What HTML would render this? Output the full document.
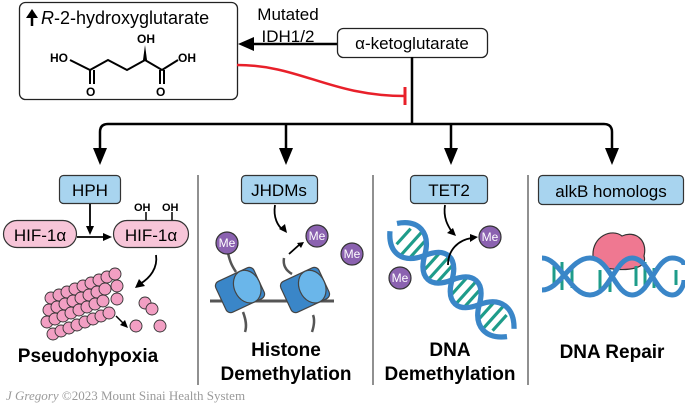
<!DOCTYPE html>
<html><head><meta charset="utf-8"><style>
html,body{margin:0;padding:0;background:#fff;}
svg{display:block;}
text{font-family:"Liberation Sans",sans-serif;}
</style></head><body>
<svg width="685" height="406" viewBox="0 0 685 406" xmlns="http://www.w3.org/2000/svg">
<!-- top box -->
<rect x="19.5" y="2.5" width="218" height="97" rx="6" fill="#fff" stroke="#222" stroke-width="1.3"/>
<path d="M32,26 V14" stroke="#000" stroke-width="2.5"/>
<path d="M26,18 L32,9 L38,18 z" fill="#000"/>
<text x="41" y="24" font-size="18"><tspan font-style="italic">R</tspan>-2-hydroxyglutarate</text>
<!-- molecule -->
<g stroke="#000" stroke-width="2" fill="none">
<path d="M70,60 L90,70 L108,60 L127,70 L145,60 L162,70 L178,60"/>
<path d="M90,70 V84 M94,70 V84"/>
<path d="M160,70 V84 M164,70 V84"/>
</g>
<path d="M143,60 L147,60 L145,45 z" fill="#000"/>
<g font-size="12" font-weight="bold">
<text x="50" y="62">HO</text><text x="178" y="62">OH</text><text x="137" y="43">OH</text>
<text x="86" y="96">O</text><text x="156" y="96">O</text>
</g>
<!-- mutated -->
<text x="288" y="20" font-size="17" text-anchor="middle">Mutated</text>
<text x="288" y="42" font-size="17" text-anchor="middle">IDH1/2</text>
<line x1="337" y1="44" x2="252" y2="44" stroke="#000" stroke-width="2.5"/>
<path d="M238,44 L254,37 L254,51 z" fill="#000"/>
<rect x="337.5" y="28.5" width="150" height="29" rx="6" fill="#fff" stroke="#222" stroke-width="1.3"/>
<text x="412" y="49" font-size="17" text-anchor="middle">α-ketoglutarate</text>
<!-- red inhibit -->
<path d="M237,65 C300,65 330,96 405,96" stroke="#e8202a" stroke-width="2.5" fill="none"/>
<line x1="405" y1="87" x2="405" y2="105" stroke="#e8202a" stroke-width="3"/>
<!-- tree -->
<g stroke="#000" stroke-width="2.5" fill="none">
<line x1="412" y1="57" x2="412" y2="124"/>
<path d="M100,150 V132 Q100,124 108,124 H604 Q612,124 612,132 V150"/>
<line x1="286" y1="124" x2="286" y2="150"/>
<line x1="451" y1="124" x2="451" y2="150"/>
</g>
<g fill="#000">
<path d="M93,148 L107,148 L100,165 z"/><path d="M279,148 L293,148 L286,165 z"/>
<path d="M444,148 L458,148 L451,165 z"/><path d="M605,148 L619,148 L612,165 z"/>
</g>
<!-- dividers -->
<g stroke="#555" stroke-width="1.3">
<line x1="198" y1="175" x2="198" y2="385"/><line x1="373" y1="175" x2="373" y2="385"/><line x1="528" y1="175" x2="528" y2="385"/>
</g>
<!-- blue boxes -->
<g fill="#a8d4ef" stroke="#333" stroke-width="1.2">
<rect x="59.5" y="175.5" width="61" height="28" rx="4"/>
<rect x="241.5" y="175.5" width="76" height="28" rx="4"/>
<rect x="410.5" y="175.5" width="77" height="28" rx="4"/>
<rect x="538.5" y="175.5" width="145" height="29" rx="4"/>
</g>
<g font-size="17" text-anchor="middle">
<text x="90" y="196">HPH</text><text x="279" y="196">JHDMs</text><text x="449" y="196">TET2</text><text x="611" y="197">alkB homologs</text>
</g>
<!-- HIF -->
<g fill="#f7c5d8" stroke="#333" stroke-width="1.2">
<rect x="3.5" y="220.5" width="73" height="27" rx="13.5"/>
<rect x="113.5" y="220.5" width="75" height="27" rx="13.5"/>
</g>
<g font-size="17" text-anchor="middle"><text x="40" y="241">HIF-1α</text><text x="151" y="241">HIF-1α</text></g>
<g stroke="#000" stroke-width="1.5"><line x1="146" y1="220" x2="146" y2="212"/><line x1="172" y1="220" x2="172" y2="212"/></g>
<g font-size="11" font-weight="bold"><text x="134" y="211">OH</text><text x="162" y="211">OH</text></g>
<g stroke="#000" stroke-width="1.8" fill="none">
<line x1="77" y1="237" x2="104" y2="237"/><line x1="90" y1="204" x2="90" y2="227"/>
<path d="M156,255 C158,268 150,278 140,284"/>
</g>
<path d="M112,237 L103,233 L103,241 z M90,235 L86,226 L94,226 z M135,288 L139,279 L145,286 z" fill="#000"/>
<!-- pink balls -->
<g fill="#f29fc3" stroke="#333" stroke-width="0.9">
<circle cx="51" cy="298" r="6"/><circle cx="59" cy="295" r="6"/><circle cx="67" cy="292" r="6"/><circle cx="75" cy="289" r="6"/><circle cx="83" cy="286" r="6"/><circle cx="91" cy="283" r="6"/><circle cx="99" cy="280" r="6"/><circle cx="107" cy="277" r="6"/><circle cx="115" cy="274" r="6"/>
<circle cx="49" cy="310" r="6"/><circle cx="57" cy="307" r="6"/><circle cx="65" cy="304" r="6"/><circle cx="73" cy="301" r="6"/><circle cx="81" cy="298" r="6"/><circle cx="89" cy="295" r="6"/><circle cx="97" cy="292" r="6"/><circle cx="105" cy="289" r="6"/><circle cx="117" cy="286" r="6"/>
<circle cx="47" cy="322" r="6"/><circle cx="55" cy="319" r="6"/><circle cx="63" cy="316" r="6"/><circle cx="71" cy="313" r="6"/><circle cx="79" cy="310" r="6"/><circle cx="87" cy="307" r="6"/><circle cx="95" cy="304" r="6"/><circle cx="103" cy="301" r="6"/><circle cx="117" cy="299" r="6"/>
<circle cx="53" cy="334" r="6"/><circle cx="61" cy="331" r="6"/><circle cx="69" cy="328" r="6"/><circle cx="77" cy="325" r="6"/><circle cx="85" cy="322" r="6"/><circle cx="93" cy="319" r="6"/><circle cx="101" cy="316" r="6"/><circle cx="109" cy="313" r="6"/>
<circle cx="145" cy="303" r="6"/><circle cx="152" cy="309" r="6"/><circle cx="136" cy="326" r="6"/><circle cx="160" cy="326" r="6"/>
</g>
<path d="M116,316 L124,324" stroke="#000" stroke-width="1.5"/><path d="M128,328 L120,325 L125,320 z" fill="#000"/>
<!-- nucleosomes -->
<line x1="210" y1="301" x2="334" y2="301" stroke="#555" stroke-width="3"/>
<g stroke="#444" stroke-width="1.2">
<g transform="rotate(-25 240 290)"><rect x="219" y="273" width="42" height="34" rx="5" fill="#3a86c8"/><ellipse cx="248" cy="290" rx="13" ry="17" fill="#6ab6ea"/></g>
<g transform="rotate(-25 305 290)"><rect x="284" y="273" width="42" height="34" rx="5" fill="#3a86c8"/><ellipse cx="313" cy="290" rx="13" ry="17" fill="#6ab6ea"/></g>
</g>
<g stroke="#555" stroke-width="2.5" fill="none">
<path d="M228,253 C230,262 232,266 236,272"/><path d="M284,258 C283,264 285,270 292,274"/>
<path d="M243,312 C246,320 247,326 245,332"/><path d="M313,315 C315,320 314,326 312,332"/>
</g>
<g fill="#8b62b0" stroke="#333" stroke-width="1.2">
<circle cx="227" cy="243" r="11"/><circle cx="317" cy="236" r="11"/><circle cx="352" cy="254" r="11"/>
</g>
<!-- DNA helix 1 (rotated) -->
<g transform="translate(452,280) rotate(42) scale(1.05)">
<g stroke="#1e9c8a" stroke-width="3">
<line x1="-62" y1="-10" x2="-62" y2="10"/><line x1="-52" y1="-14" x2="-52" y2="14"/><line x1="-44" y1="-10" x2="-44" y2="10"/>
<line x1="-26" y1="-10" x2="-26" y2="10"/><line x1="-17" y1="-14" x2="-17" y2="14"/><line x1="-9" y1="-10" x2="-9" y2="10"/>
<line x1="9" y1="-10" x2="9" y2="10"/><line x1="18" y1="-14" x2="18" y2="14"/><line x1="26" y1="-10" x2="26" y2="10"/>
<line x1="44" y1="-10" x2="44" y2="10"/><line x1="53" y1="-14" x2="53" y2="14"/><line x1="61" y1="-10" x2="61" y2="10"/>
</g>
<g fill="none" stroke="#3a86c8" stroke-width="5">
<path d="M-75,-5 C-62,-22 -45,-20 -35,0 S-10,20 0,0 S25,-20 35,0 S62,20 75,5"/>
<path d="M-75,5 C-62,22 -45,20 -35,0 S-10,-20 0,0 S25,20 35,0 S62,-20 75,-5"/>
</g>
</g>
<g fill="#8b62b0" stroke="#333" stroke-width="1.2">
<circle cx="490" cy="237" r="11"/><circle cx="400" cy="278" r="11"/>
</g>
<g fill="#fff" font-size="12" text-anchor="middle"><text x="227" y="247">Me</text><text x="317" y="240">Me</text><text x="352" y="258">Me</text><text x="490" y="241">Me</text><text x="400" y="282">Me</text></g>
<g stroke="#000" stroke-width="1.8" fill="none">
<path d="M275,205 C273,218 278,226 283,230"/><path d="M289,254 L299,245"/>
<path d="M445,205 C443,218 448,226 452,232"/><path d="M448,265 C448,250 458,240 472,238"/>
</g>
<path d="M287,233 L279,229 L285,224 z M304,242 L297,243 L301,248 z M456,236 L447,233 L453,228 z M478,237 L470,234 L470,242 z" fill="#000"/>
<!-- DNA helix 2 -->
<path d="M593,256 C592,236 612,228 622,236 C635,230 648,240 644,256 C648,268 630,272 605,268 Z" fill="#ef7891" stroke="#333" stroke-width="1.2"/>
<g stroke="#1e9c8a" stroke-width="3">
<line x1="554" y1="266" x2="554" y2="284"/><line x1="562" y1="262" x2="562" y2="290"/><line x1="572" y1="268" x2="572" y2="288"/>
<line x1="600" y1="270" x2="600" y2="290"/><line x1="610" y1="280" x2="610" y2="292"/>
<line x1="636" y1="266" x2="636" y2="286"/><line x1="645" y1="262" x2="645" y2="290"/><line x1="654" y1="268" x2="654" y2="288"/><line x1="676" y1="270" x2="676" y2="285"/>
</g>
<g fill="none" stroke="#3a86c8" stroke-width="5">
<path d="M542,258 C560,258 570,295 590,295 C610,295 615,258 632,258 C650,258 655,295 672,295 C680,295 684,285 684,280"/>
<path d="M542,290 C560,290 570,258 590,258 C610,258 615,295 632,295 C650,295 655,258 672,258 C680,258 684,262 684,265"/>
</g>
<!-- labels -->
<g font-size="19" font-weight="bold" text-anchor="middle">
<text x="88" y="362">Pseudohypoxia</text>
<text x="286" y="356">Histone</text><text x="286" y="380">Demethylation</text>
<text x="450" y="356">DNA</text><text x="450" y="380">Demethylation</text>
<text x="612" y="358">DNA Repair</text>
</g>
<text x="6" y="400" font-size="13" fill="#9a9a9a" style="font-family:'Liberation Serif',serif"><tspan font-style="italic">J Gregory</tspan> ©2023 Mount Sinai Health System</text>
</svg>
</body></html>
